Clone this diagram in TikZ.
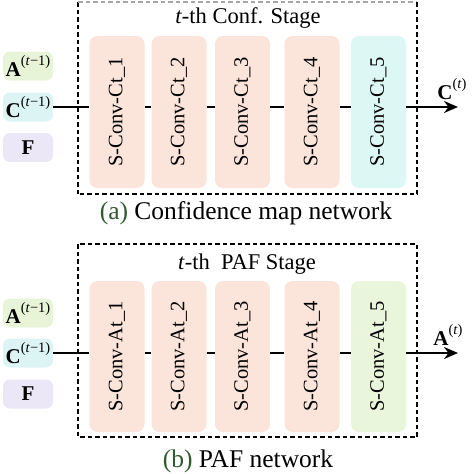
\documentclass[tikz,border=0pt]{standalone}
\usepackage{fontspec}
\setmainfont{Liberation Serif}
\usetikzlibrary{arrows.meta}
\definecolor{salmon}{HTML}{FBE4DA}
\definecolor{cyanbox}{HTML}{DDF8F4}
\definecolor{greenbox}{HTML}{E9F6DC}
\definecolor{lblgreen}{HTML}{E8F4D8}
\definecolor{lblcyan}{HTML}{DCF5F4}
\definecolor{lblpurple}{HTML}{ECE7F6}
\definecolor{capgreen}{HTML}{2F5A2F}
\newcommand{\lbl}[2]{\textbf{#1}\raisebox{0.5em}{\fontsize{14.5}{15}\selectfont#2}}
\tikzset{
  convbox/.style={fill=#1, rounded corners=8pt, minimum width=55pt, minimum height=152pt, inner sep=0pt},
  convtext/.style={rotate=90, font=\fontsize{20.5}{23}\selectfont},
  lblbox/.style={fill=#1, rounded corners=7pt, minimum width=50pt, minimum height=29pt, inner sep=0pt, font=\fontsize{21}{23}\selectfont},
  stagebox/.style={draw=black, line width=2.2pt, dash pattern=on 4.5pt off 3pt},
  conn/.style={line width=2.4pt},
  titletext/.style={font=\fontsize{22.5}{25}\selectfont},
  captext/.style={font=\fontsize{25.5}{28}\selectfont},
}
\begin{document}
\begin{tikzpicture}[x=1pt,y=-1pt]
\useasboundingbox (0,0) rectangle (474,474);
% ---------- top panel ----------
\draw[stagebox] (78,194) -- (78,2);
\draw[stagebox, draw=gray!70] (78,2) -- (417,2);
\draw[stagebox] (417,2) -- (417,194) -- (78,194);
\node[titletext] (t1) at (248,18) {\textit{t}-th Conf. Stage};
\node[convbox=salmon] (a1) at (117,112) {};
\node[convbox=salmon] (a2) at (179,112) {};
\node[convbox=salmon] (a3) at (242.5,112) {};
\node[convbox=salmon] (a4) at (312,112) {};
\node[convbox=cyanbox] (a5) at (378.5,112) {};
\node[convtext] at (a1) {S-Conv-Ct\_1};
\node[convtext] at (a2) {S-Conv-Ct\_2};
\node[convtext] at (a3) {S-Conv-Ct\_3};
\node[convtext] at (a4) {S-Conv-Ct\_4};
\node[convtext] at (a5) {S-Conv-Ct\_5};
\node[lblbox=lblgreen] (aA) at (28,66) {\lbl{A}{(\textit{t}−1)}};
\node[lblbox=lblcyan] (aC) at (28,107) {\lbl{C}{(\textit{t}−1)}};
\node[lblbox=lblpurple] (aF) at (28,147.5) {\textbf{F}};
\coordinate (aout) at (458,107);
\node[font=\fontsize{21}{23}\selectfont] (aoutl) at (452,89) {\lbl{C}{(\textit{t})}};
\draw[conn] (aC.east) -- (aC.east -| a1.west);
\draw[conn] (a1.east |- aC) -- (a2.west |- aC);
\draw[conn] (a2.east |- aC) -- (a3.west |- aC);
\draw[conn] (a3.east |- aC) -- (a4.west |- aC);
\draw[conn] (a4.east |- aC) -- (a5.west |- aC);
\draw[conn, -{Stealth[length=14pt,width=12pt]}] (a5.east |- aC) -- (aout);
\node[captext] (cap1) at (246,213) {\textcolor{capgreen}{(a)} Confidence map network};
% ---------- bottom panel ----------
\draw[stagebox] (78,244) rectangle (417,437);
\node[titletext] (t2) at (247,264) {\textit{t}-th\ \ PAF Stage};
\node[convbox=salmon, minimum height=151pt] (b1) at (117,356.5) {};
\node[convbox=salmon, minimum height=151pt] (b2) at (179,356.5) {};
\node[convbox=salmon, minimum height=151pt] (b3) at (242.5,356.5) {};
\node[convbox=salmon, minimum height=151pt] (b4) at (312,356.5) {};
\node[convbox=greenbox, minimum height=151pt] (b5) at (378.5,356.5) {};
\node[convtext] at (b1) {S-Conv-At\_1};
\node[convtext] at (b2) {S-Conv-At\_2};
\node[convtext] at (b3) {S-Conv-At\_3};
\node[convtext] at (b4) {S-Conv-At\_4};
\node[convtext] at (b5) {S-Conv-At\_5};
\node[lblbox=lblgreen] (bA) at (28,313) {\lbl{A}{(\textit{t}−1)}};
\node[lblbox=lblcyan] (bC) at (28,353) {\lbl{C}{(\textit{t}−1)}};
\node[lblbox=lblpurple] (bF) at (28,394) {\textbf{F}};
\coordinate (bout) at (458,353);
\node[font=\fontsize{21}{23}\selectfont] (boutl) at (448,335) {\lbl{A}{(\textit{t})}};
\draw[conn] (bC.east) -- (bC.east -| b1.west);
\draw[conn] (b1.east |- bC) -- (b2.west |- bC);
\draw[conn] (b2.east |- bC) -- (b3.west |- bC);
\draw[conn] (b3.east |- bC) -- (b4.west |- bC);
\draw[conn] (b4.east |- bC) -- (b5.west |- bC);
\draw[conn, -{Stealth[length=14pt,width=12pt]}] (b5.east |- bC) -- (bout);
\node[captext] (cap2) at (248,461) {\textcolor{capgreen}{(b)} PAF network};
\end{tikzpicture}
\end{document}
